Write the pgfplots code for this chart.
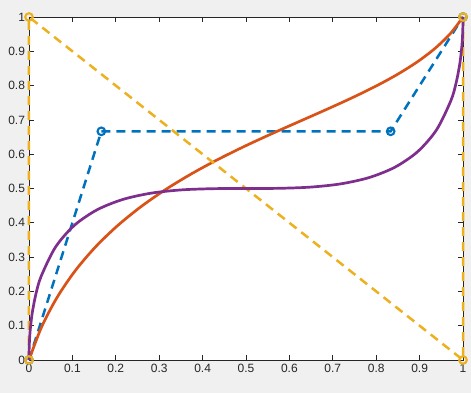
\documentclass[border=0pt]{standalone}
\usepackage{fontspec}
\setmainfont{Liberation Sans}
\usepackage{pgfplots}
\pgfplotsset{compat=1.18}
\definecolor{mblue}{rgb}{0,0.447,0.741}
\definecolor{morange}{rgb}{0.85,0.325,0.098}
\definecolor{myellow}{rgb}{0.929,0.694,0.125}
\definecolor{mpurple}{rgb}{0.494,0.184,0.556}
\definecolor{figbg}{RGB}{240,240,240}
\definecolor{axcol}{RGB}{38,38,38}
\begin{document}
\begin{tikzpicture}[x=1pt,y=1pt]
\fill[figbg] (-29,-33) rectangle (442,360);
\begin{axis}[
  at={(0,0)}, anchor=south west,
  scale only axis, width=434pt, height=343pt,
  xmin=0, xmax=1, ymin=0, ymax=1,
  xtick={0,0.1,...,1}, ytick={0,0.1,...,1},
  tick pos=both, tick align=inside,
  major tick length=5pt,
  axis line style={axcol, line width=0.7pt},
  every tick/.style={axcol, line width=0.7pt},
  tick label style={font=\fontsize{12}{14}\selectfont, text=axcol},
  /pgf/number format/assume math mode=true,
  axis background/.style={fill=white},
  clip=false,
  xticklabel style={yshift=-1pt},
  yticklabel style={xshift=-0.5pt},
]
\addplot[mblue, line width=2.5pt, dash pattern=on 9pt off 6pt, mark=o, mark size=3.8pt, mark options={solid, line width=2.1pt}]
  coordinates {(0,0) (0.166667,0.666667) (0.833333,0.666667) (1,1)};
\addplot[morange, line width=2.7pt, smooth]
  coordinates {(0,0) (0.028625,0.095125) (0.064,0.181) (0.105375,0.258375) (0.152,0.328) (0.203125,0.390625) (0.258,0.447) (0.315875,0.497875) (0.376,0.544) (0.437625,0.586125) (0.5,0.625) (0.562375,0.661375) (0.624,0.696) (0.684125,0.729625) (0.742,0.763) (0.796875,0.796875) (0.848,0.832) (0.894625,0.869125) (0.936,0.909) (0.971375,0.952375) (1,1)};
\addplot[myellow, line width=2.5pt, dash pattern=on 9pt off 6pt, mark=o, mark size=3.8pt, mark options={solid, line width=2.1pt}]
  coordinates {(0,0) (0,1) (1,0) (1,1)};
\addplot[mpurple, line width=2.7pt, smooth]
  coordinates {(0,0) (0.000298,0.029404) (0.001184,0.057632) (0.002646,0.084708) (0.00725,0.1355) (0.01603,0.19294) (0.028,0.244) (0.06075,0.3285) (0.104,0.392) (0.15625,0.4375) (0.216,0.468) (0.28175,0.4865) (0.352,0.496) (0.42525,0.4995) (0.5,0.5) (0.57475,0.5005) (0.648,0.504) (0.71825,0.5135) (0.784,0.532) (0.84375,0.5625) (0.896,0.608) (0.93925,0.6715) (0.972,0.756) (0.98397,0.80706) (0.99275,0.8645) (0.997354,0.915292) (0.998816,0.942368) (0.999702,0.970596) (1,1)};
\end{axis}
\end{tikzpicture}
\end{document}
